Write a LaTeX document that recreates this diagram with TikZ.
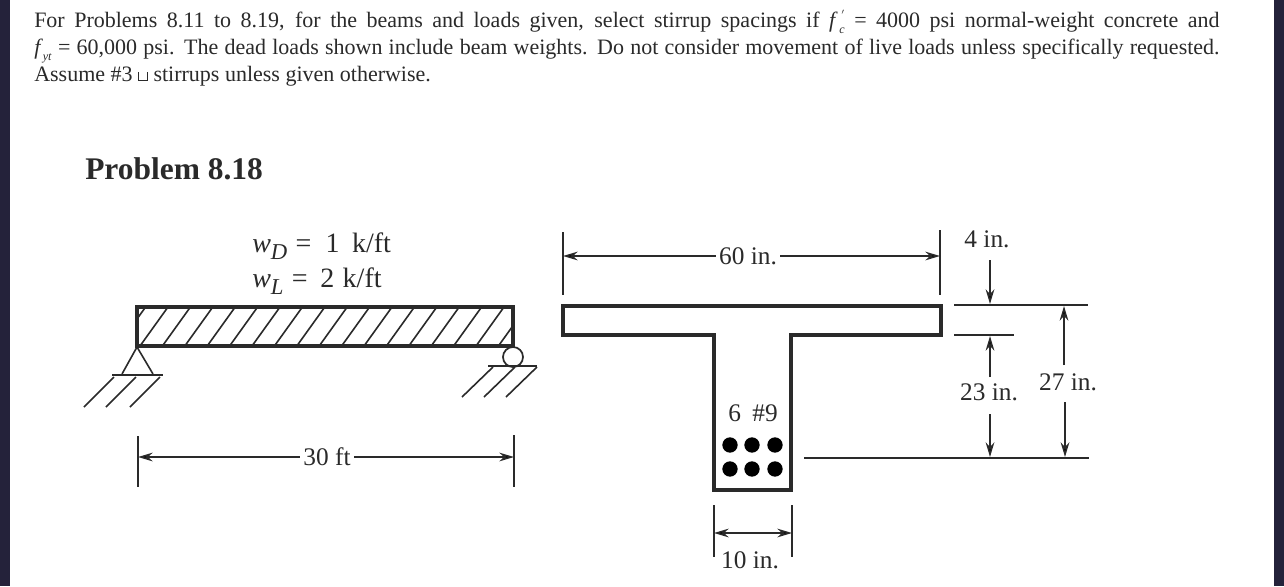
\documentclass[tikz,border=0pt]{standalone}
\usepackage{fontspec}
\setmainfont{Liberation Serif}
\usetikzlibrary{arrows.meta}
\definecolor{ink}{HTML}{2A2A2A}
\definecolor{band}{HTML}{24223A}
\newcommand{\lowsub}[2][9]{\raisebox{-0.28em}{\fontsize{#1}{#1}\selectfont\textit{#2}}}
\tikzset{
  x=0.75pt,y=-0.75pt,
  para/.style={anchor=base west,inner sep=0pt,text=ink,font=\fontsize{16.5}{18}\selectfont},
  lab/.style={inner sep=2.5pt,text=ink,font=\fontsize{19}{21}\selectfont},
  loadlab/.style={anchor=base west,inner sep=0pt,text=ink,font=\fontsize{21}{23}\selectfont},
  heavy/.style={draw=ink,line width=2.9pt,line join=miter},
  thin/.style={draw=ink,line width=1.2pt},
  ext/.style={draw=ink,line width=1.2pt},
  dimen/.style={draw=ink,line width=1.1pt,-{Stealth[length=11pt,width=6.5pt]}},
  dimboth/.style={draw=ink,line width=1.1pt,{Stealth[length=11pt,width=6.5pt]}-{Stealth[length=11pt,width=6.5pt]}},
  rebar/.style={fill=black,draw=none,circle,minimum size=11.5pt,inner sep=0pt}
}
\begin{document}
\begin{tikzpicture}
\useasboundingbox (0,0) rectangle (1284,586);
\fill[white] (0,0) rectangle (1284,586);
\fill[band] (0,0) rectangle (10,586);
\fill[band] (1274,0) rectangle (1284,586);
% text
\node[para] (l1) at (34,27) {\hbox to 889pt{For Problems 8.11 to 8.19, for the beams and loads given, select stirrup spacings if \textit{f}\,\raisebox{0.35em}{\fontsize{9}{9}\selectfont$'$}\hspace{-0.25em}\lowsub{c} = 4000 psi normal-weight concrete and}};
\node[para] (l2) at (34,54) {\hbox to 889pt{\textit{f}\lowsub{yt} = 60,000 psi. The dead loads shown include beam weights. Do not consider movement of live loads unless specifically requested.}};
\node[para] (l3) at (34,81) {Assume \#3 \tikz[x=1pt,y=1pt]\draw[ink,line width=0.9pt] (0,6)--(0,0)--(6.5,0)--(6.5,6); stirrups unless given otherwise.};
\node[anchor=base west,inner sep=0pt,text=ink,font=\bfseries\fontsize{23.6}{26}\selectfont] (title) at (85,179) {Problem 8.18};
% load labels
\node[loadlab] (wd) at (252,252) {\textit{w}\lowsub[17]{D}\hspace{0.3em}=\hspace{0.5em}1\hspace{0.45em}k/ft};
\node[loadlab] (wl) at (252,287) {\textit{w}\lowsub[17]{L}\hspace{0.3em}=\hspace{0.45em}2\hspace{0.3em}k/ft};
% beam
\begin{scope}
\clip (137,307) rectangle (513,346);
\foreach \i in {-1,...,17}{
  \draw[thin] (140+22.4*\i,346) -- (168+22.4*\i,307);
}
\end{scope}
\coordinate (bl) at (137,307);
\coordinate (br) at (513,346);
\draw[heavy] (bl) rectangle (br);
% pin support
\coordinate (pinT) at (137,347);
\coordinate (pinL) at (122,374);
\coordinate (pinR) at (153,374);
\draw[ext] (pinL) -- (pinT) -- (pinR);
\coordinate (gl1a) at (112,375);
\coordinate (gl1b) at (163,375);
\draw[ext] (gl1a) -- (gl1b);
\foreach \x in {114,136,160}{
  \draw[thin] (\x,377) -- (\x-30,407);
}
% roller support
\node[circle,draw=ink,line width=1.3pt,fill=white,minimum size=15pt,inner sep=0pt] (roll) at (513,357) {};
\coordinate (gl2a) at (488,366);
\coordinate (gl2b) at (537,366);
\draw[ext] (gl2a) -- (gl2b);
\foreach \x in {493,515,537}{
  \draw[thin] (\x,367) -- (\x-31,397);
}
% 30 ft
\coordinate (a30) at (138,457);
\coordinate (b30) at (514,457);
\draw[ext] (138,436) -- (138,487);
\draw[ext] (514,435) -- (514,487);
\node[lab] (t30) at (327,457) {30 ft};
\draw[dimen] (t30) -- (a30);
\draw[dimen] (t30) -- (b30);
% T section
\draw[heavy] (563,306) -- (941,306) -- (941,335) -- (791,335) -- (791,490) -- (714,490) -- (714,335) -- (563,335) -- cycle;
% 60 in
\coordinate (a60) at (563,256);
\coordinate (b60) at (940,256);
\draw[ext] (563,232) -- (563,295);
\draw[ext] (940,230) -- (940,295);
\node[lab] (t60) at (748,256) {60 in.};
\draw[dimen] (t60) -- (a60);
\draw[dimen] (t60) -- (b60);
% bars
\node[lab] (bars) at (753,413) {6\hspace{0.45em}\#9};
\foreach \x in {730,752,775}{
  \node[rebar] at (\x,445) {};
  \node[rebar] at (\x,469) {};
}
% 10 in
\draw[ext] (714,505) -- (714,557);
\draw[ext] (792,505) -- (792,557);
\coordinate (a10) at (714,533);
\coordinate (b10) at (792,533);
\draw[dimboth] (a10) -- (b10);
\node[lab] (t10) at (750,560) {10 in.};
% right dims
\draw[ext] (954,305) -- (1088,305);
\draw[ext] (954,335) -- (1014,335);
\draw[ext] (804,458) -- (1089,458);
\node[lab] (t4) at (987,239) {4 in.};
\node[lab] (t23) at (989,392) {23 in.};
\node[lab] (t27) at (1068,382) {27 in.};
\coordinate (s4a) at (990,260);
\coordinate (s4b) at (990,304);
\draw[dimen] (s4a) -- (s4b);
\coordinate (s23a) at (990,377);
\coordinate (s23b) at (990,336);
\draw[dimen] (s23a) -- (s23b);
\coordinate (s23c) at (990,414);
\coordinate (s23d) at (990,457);
\draw[dimen] (s23c) -- (s23d);
\coordinate (s27a) at (1064,365);
\coordinate (s27b) at (1064,306);
\draw[dimen] (s27a) -- (s27b);
\coordinate (s27c) at (1065,402);
\coordinate (s27d) at (1065,457);
\draw[dimen] (s27c) -- (s27d);
\end{tikzpicture}
\end{document}
